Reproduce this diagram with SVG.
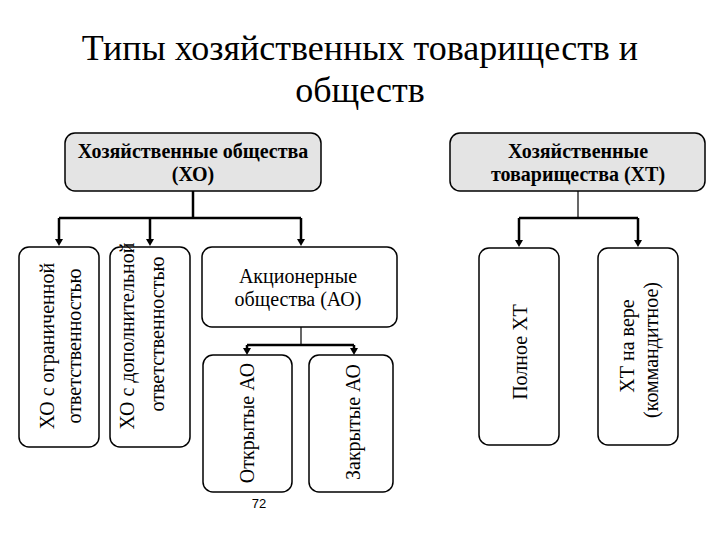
<svg xmlns="http://www.w3.org/2000/svg" width="720" height="540" viewBox="0 0 720 540">
<defs>
<marker id="ah" markerWidth="8" markerHeight="8" refX="1" refY="4" orient="auto" markerUnits="userSpaceOnUse" viewBox="0 0 8 8">
<path d="M0,0 L7,4 L0,8 Z" fill="#000"/>
</marker>
<style>
.title{font-family:"Liberation Serif","Times New Roman",serif;font-size:36px;fill:#000;text-anchor:middle}
.head{fill:#e4e4e4;stroke:#000;stroke-width:1.5}
.box{fill:#fff;stroke:#000;stroke-width:1.5}
.ht{font-family:"Liberation Serif","Times New Roman",serif;font-size:20px;font-weight:bold;fill:#000;text-anchor:middle}
.t{font-family:"Liberation Serif","Times New Roman",serif;font-size:20px;fill:#000;text-anchor:middle}
.c{fill:none;stroke:#000;stroke-width:2.5}
.a{fill:none;stroke:#000;stroke-width:2.5;marker-end:url(#ah)}
.c1{fill:none;stroke:#000;stroke-width:1.2}
.pg{font-family:"Liberation Sans",Arial,sans-serif;font-size:13px;fill:#000;text-anchor:middle}
</style>
</defs>
<rect width="720" height="540" fill="#fff"/>
<g id="title">
<text class="title" x="360" y="60">Типы хозяйственных товариществ и</text>
<text class="title" x="360" y="102">обществ</text>
</g>
<g id="connectors">
<path class="c" d="M193,191 V218"/>
<path class="c" d="M59,218 H301"/>
<path class="a" d="M59,218 V240"/>
<path class="a" d="M150,218 V240"/>
<path class="a" d="M301,218 V240"/>
<path class="c1" d="M578,191 V218"/>
<path class="c" d="M519,218 H638"/>
<path class="a" d="M519,218 V241"/>
<path class="a" d="M638,218 V241"/>
<path class="c1" d="M301,327 V345"/>
<path class="c" d="M247,345 H354"/>
<path class="a" d="M247,345 V349"/>
<path class="a" d="M354,345 V349"/>
</g>
<g id="xo">
<rect class="head" x="65" y="133" width="256" height="58" rx="10"/>
<text class="ht" x="193" y="158">Хозяйственные общества</text>
<text class="ht" x="193" y="181">(ХО)</text>
</g>
<g id="xt">
<rect class="head" x="450" y="133" width="255" height="58" rx="10"/>
<text class="ht" x="578" y="158">Хозяйственные</text>
<text class="ht" x="578" y="181">товарищества (ХТ)</text>
</g>
<g id="ooo">
<rect class="box" x="19" y="247" width="80" height="200" rx="10"/>
<text class="t" transform="translate(47,346) rotate(-90)" y="7">ХО с ограниченной</text>
<text class="t" transform="translate(74,346) rotate(-90)" y="7">ответственностью</text>
</g>
<g id="odo">
<rect class="box" x="110" y="247" width="80" height="200" rx="10"/>
<text class="t" transform="translate(127,336) rotate(-90)" y="7">ХО с дополнительной</text>
<text class="t" transform="translate(157,334) rotate(-90)" y="7">ответственностью</text>
</g>
<g id="ao">
<rect class="box" x="202" y="247" width="195" height="80" rx="10"/>
<text class="t" x="298" y="283">Акционерные</text>
<text class="t" x="298" y="306">общества (АО)</text>
</g>
<g id="oao">
<rect class="box" x="203" y="355" width="89" height="137" rx="10"/>
<text class="t" transform="translate(247,423) rotate(-90)" y="7">Открытые АО</text>
</g>
<g id="zao">
<rect class="box" x="309" y="355" width="84" height="137" rx="10"/>
<text class="t" transform="translate(353,422) rotate(-90)" y="7">Закрытые АО</text>
</g>
<g id="pt">
<rect class="box" x="479" y="248" width="80" height="197" rx="10"/>
<text class="t" transform="translate(520,352) rotate(-90)" y="7">Полное ХТ</text>
</g>
<g id="tv">
<rect class="box" x="598" y="248" width="80" height="197" rx="10"/>
<text class="t" transform="translate(627,346) rotate(-90)" y="7">ХТ на вере</text>
<text class="t" transform="translate(651,350) rotate(-90)" y="7">(коммандитное)</text>
</g>
<text class="pg" x="259" y="508">72</text>
</svg>
